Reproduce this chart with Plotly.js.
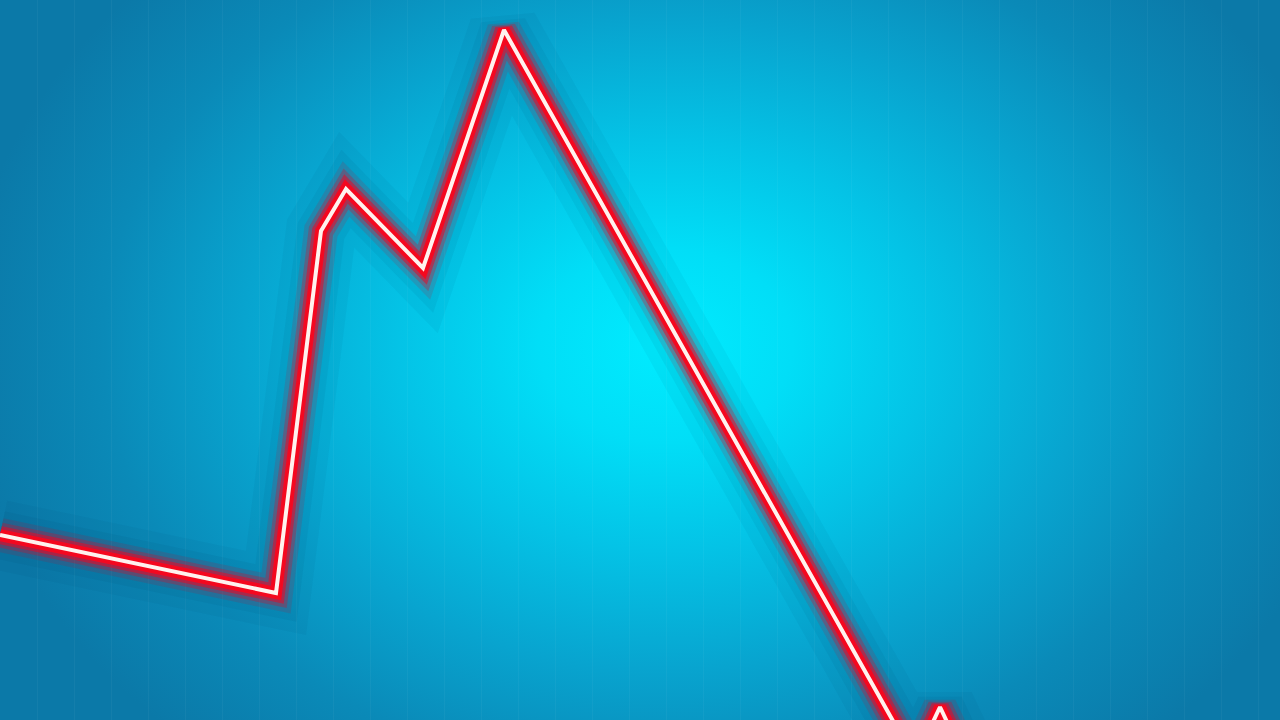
<!DOCTYPE html>
<html>
<head>
<meta charset="utf-8">
<script src="https://cdn.plot.ly/plotly-3.0.1.min.js"></script>
<style>
  html, body { margin:0; padding:0; width:1280px; height:720px; overflow:hidden; }
  body { background: radial-gradient(ellipse 55% 75% at 52% 48%, #00ecff 0%, #01def7 18%, #04c3e6 38%, #08a4cf 60%, #0a8ab8 80%, #0b79a8 100%); }
  #chart { width:1280px; height:720px; }
</style>
</head>
<body>
<div id="chart"></div>
<script>
// Line path values (x position along time, y value)
const xVals = [0, 276, 321, 346, 423, 504, 915, 940, 965];
const yVals = [185, 127, 489, 531, 452, 690, -40, 13, -40];

const glowLayers = [
  {w: 70, c: 'rgba(8,50,90,0.05)'},
  {w: 48, c: 'rgba(8,50,90,0.06)'},
  {w: 34, c: 'rgba(210,0,30,0.14)'},
  {w: 25, c: 'rgba(235,0,30,0.28)'},
  {w: 18, c: 'rgba(245,0,30,0.50)'},
  {w: 12, c: 'rgba(250,5,30,0.90)'},
  {w: 9,  c: 'rgb(245,8,30)'},
  {w: 4,  c: '#fff2ee'}
];
const traces = glowLayers.map(g => ({
  x: xVals, y: yVals, type: 'scatter', mode: 'lines',
  line: {color: g.c, width: g.w, shape: 'linear'},
  hoverinfo: 'skip', showlegend: false
}));

const layout = {
  width: 1280, height: 720,
  margin: {l:0, r:0, t:0, b:0, pad:0},
  paper_bgcolor: 'rgba(0,0,0,0)',
  plot_bgcolor: 'rgba(0,0,0,0)',
  xaxis: {range: [0, 1280], showgrid: true, gridcolor: 'rgba(255,255,255,0.04)', dtick: 37,
          zeroline: false, showticklabels: false, ticks: '', showline: false, fixedrange: true},
  yaxis: {range: [0, 720], showgrid: false, zeroline: false, showticklabels: false,
          ticks: '', showline: false, fixedrange: true},
  showlegend: false
};
Plotly.newPlot('chart', traces, layout, {displayModeBar: false, staticPlot: true});
</script>
</body>
</html>
